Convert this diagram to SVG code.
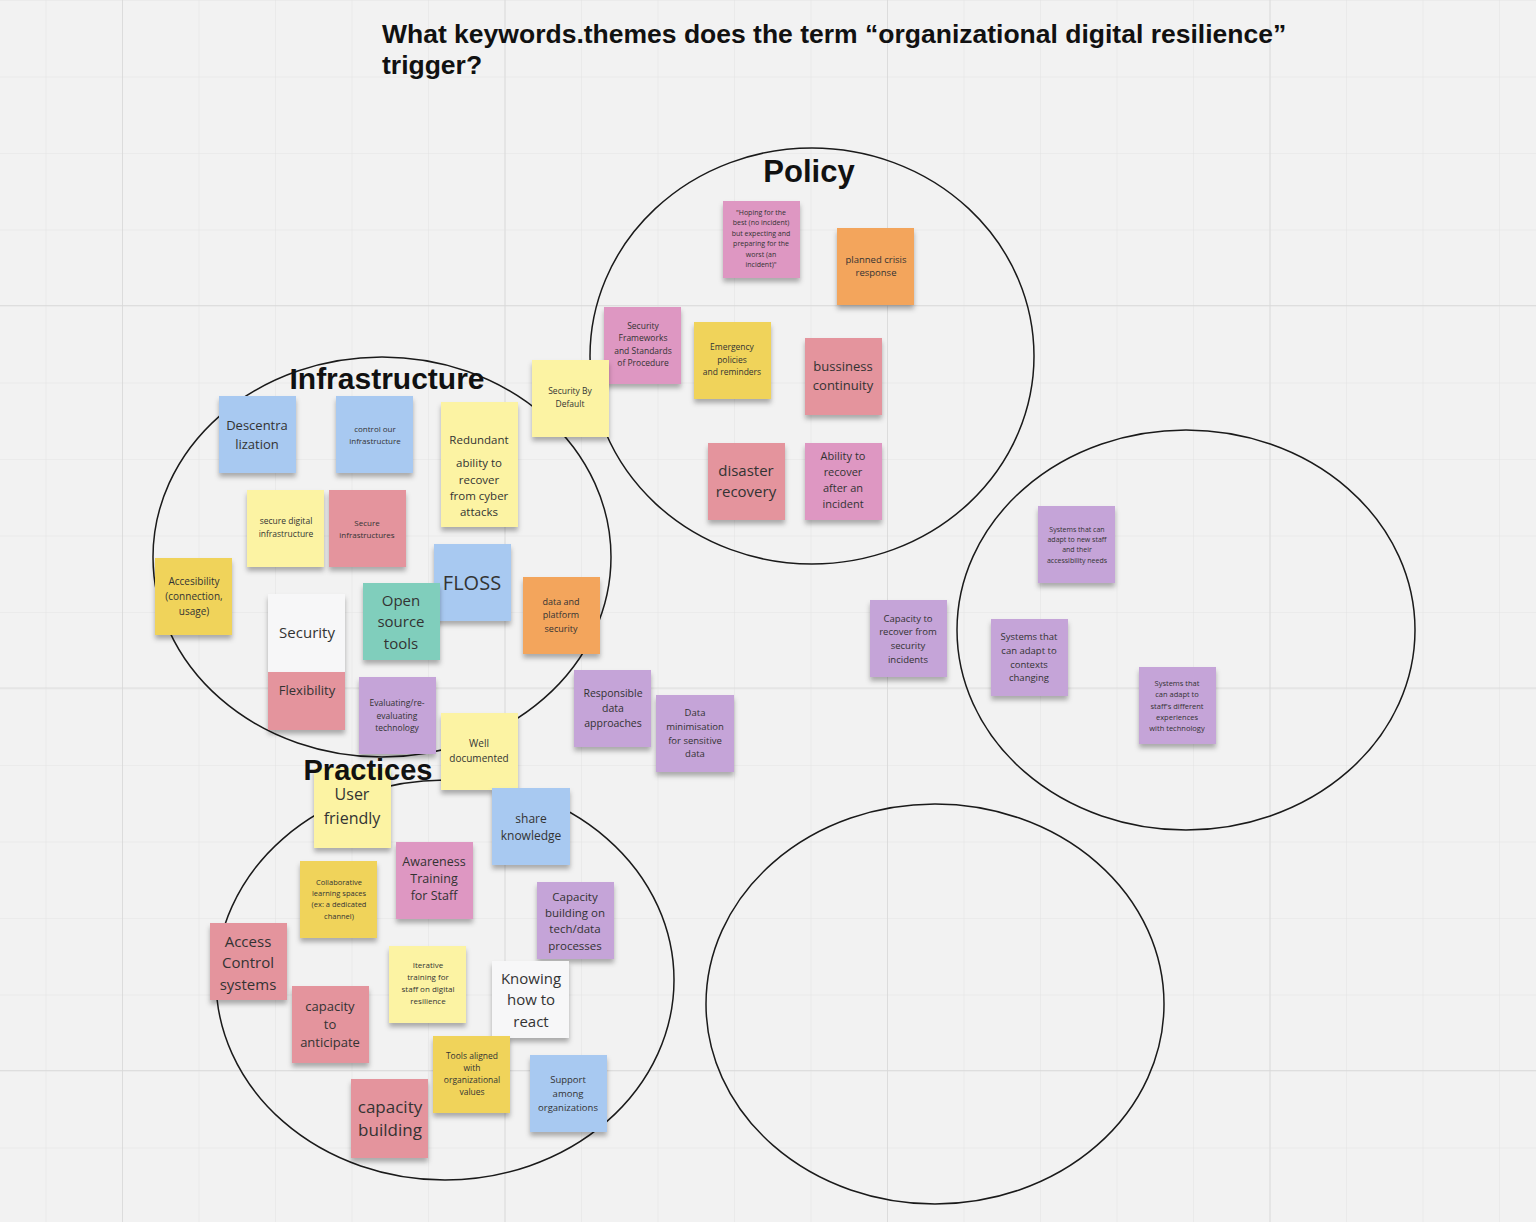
<svg xmlns="http://www.w3.org/2000/svg" width="1536" height="1222" viewBox="0 0 1536 1222">
<defs>
<pattern id="g" x="45.5" y="0" width="76.5" height="76.5" patternUnits="userSpaceOnUse"><path d="M0 0V76.5M0 0H76.5" stroke="#e4e4e4" stroke-width="1.2" fill="none"/></pattern>
<pattern id="G" x="122" y="305" width="382.5" height="382.5" patternUnits="userSpaceOnUse"><path d="M0 0V382.5M0 0H382.5" stroke="#d8d8d8" stroke-width="1.5" fill="none"/></pattern>
<filter id="sh" x="-10%" y="-10%" width="120%" height="130%"><feDropShadow dx="0" dy="4" stdDeviation="2.5" flood-color="#000" flood-opacity="0.3"/></filter>
<style>
.n rect{filter:url(#sh)}
.pk{fill:#de97c2}.or{fill:#f3a55c}.ye{fill:#f0d35a}.ly{fill:#fcf3a3}.rd{fill:#e4949d}.bl{fill:#a8c9f1}.pu{fill:#c5a4d8}.te{fill:#80cebc}.wh{fill:#f7f7f8}
text{font-family:"Open Sans","Liberation Sans",sans-serif;fill:#333;text-anchor:middle}
.t{font-family:"Liberation Sans",Arial,sans-serif;font-weight:bold;fill:#111}
.c{fill:none;stroke:#1a1a1a;stroke-width:1.5}
</style>
</defs>
<rect width="1536" height="1222" fill="#f2f2f2"/>
<rect width="1536" height="1222" fill="url(#g)"/>
<rect width="1536" height="1222" fill="url(#G)"/>
<text class="t" x="382" y="43" font-size="26.5" style="text-anchor:start">What keywords.themes does the term “organizational digital resilience”</text>
<text class="t" x="382" y="74" font-size="26.5" style="text-anchor:start">trigger?</text>
<g id="connectors">
<ellipse class="c" cx="812" cy="356" rx="222" ry="208"/>
<ellipse class="c" cx="382" cy="557" rx="229" ry="200"/>
<ellipse class="c" cx="1186" cy="630" rx="229" ry="200"/>
<ellipse class="c" cx="445" cy="980" rx="229" ry="200"/>
<ellipse class="c" cx="935" cy="1004" rx="229" ry="200"/>
</g>
<text class="t" x="809" y="182" font-size="31">Policy</text>
<text class="t" x="387" y="389" font-size="30">Infrastructure</text>
<g class="n" id="n1"><rect class="pk" x="723" y="201" width="77" height="77"/><text font-size="7"><tspan x="761" y="215">"Hoping for the</tspan><tspan x="761" y="225">best (no incident)</tspan><tspan x="761" y="236">but expecting and</tspan><tspan x="761" y="246">preparing for the</tspan><tspan x="761" y="257">worst (an</tspan><tspan x="761" y="267">incident)"</tspan></text></g>
<g class="n" id="n2"><rect class="or" x="837" y="228" width="77" height="77"/><text font-size="9.5"><tspan x="876" y="263">planned crisis</tspan><tspan x="876" y="276">response</tspan></text></g>
<g class="n" id="n3"><rect class="pk" x="604" y="307" width="77" height="77"/><text font-size="8.5"><tspan x="643" y="329">Security</tspan><tspan x="643" y="341">Frameworks</tspan><tspan x="643" y="354">and Standards</tspan><tspan x="643" y="366">of Procedure</tspan></text></g>
<g class="n" id="n4"><rect class="ye" x="694" y="322" width="77" height="77"/><text font-size="8.5"><tspan x="732" y="350">Emergency</tspan><tspan x="732" y="363">policies</tspan><tspan x="732" y="375">and reminders</tspan></text></g>
<g class="n" id="n5"><rect class="rd" x="805" y="338" width="77" height="77"/><text font-size="13"><tspan x="843" y="371">bussiness</tspan><tspan x="843" y="390">continuity</tspan></text></g>
<g class="n" id="n6"><rect class="ly" x="532" y="360" width="77" height="77"/><text font-size="8.5"><tspan x="570" y="394">Security By</tspan><tspan x="570" y="407">Default</tspan></text></g>
<g class="n" id="n7"><rect class="rd" x="708" y="443" width="77" height="77"/><text font-size="15"><tspan x="746" y="476">disaster</tspan><tspan x="746" y="497">recovery</tspan></text></g>
<g class="n" id="n8"><rect class="pk" x="805" y="443" width="77" height="77"/><text font-size="11"><tspan x="843" y="460">Ability to</tspan><tspan x="843" y="476">recover</tspan><tspan x="843" y="492">after an</tspan><tspan x="843" y="508">incident</tspan></text></g>
<g class="n" id="n9"><rect class="bl" x="219" y="396" width="77" height="77"/><text font-size="13"><tspan x="257" y="430">Descentra</tspan><tspan x="257" y="449">lization</tspan></text></g>
<g class="n" id="n10"><rect class="bl" x="336" y="396" width="77" height="77"/><text font-size="8"><tspan x="375" y="432">control our</tspan><tspan x="375" y="444">infrastructure</tspan></text></g>
<g class="n" id="n11"><rect class="ly" x="441" y="402" width="77" height="125"/><text font-size="11.5"><tspan x="479" y="444">Redundant</tspan><tspan x="479" y="467">ability to</tspan><tspan x="479" y="484">recover</tspan><tspan x="479" y="500">from cyber</tspan><tspan x="479" y="516">attacks</tspan></text></g>
<g class="n" id="n12"><rect class="ly" x="247" y="490" width="77" height="77"/><text font-size="8.5"><tspan x="286" y="524">secure digital</tspan><tspan x="286" y="537">infrastructure</tspan></text></g>
<g class="n" id="n13"><rect class="rd" x="329" y="490" width="77" height="77"/><text font-size="8"><tspan x="367" y="526">Secure</tspan><tspan x="367" y="538">infrastructures</tspan></text></g>
<g class="n" id="n14"><rect class="bl" x="434" y="544" width="77" height="77"/><text font-size="20"><tspan x="472" y="590">FLOSS</tspan></text></g>
<g class="n" id="n15"><rect class="ye" x="155" y="558" width="77" height="77"/><text font-size="10"><tspan x="194" y="585">Accesibility</tspan><tspan x="194" y="600">(connection,</tspan><tspan x="194" y="615">usage)</tspan></text></g>
<g class="n" id="n16"><rect class="te" x="363" y="583" width="77" height="77"/><text font-size="15"><tspan x="401" y="606">Open</tspan><tspan x="401" y="627">source</tspan><tspan x="401" y="649">tools</tspan></text></g>
<g class="n" id="n17"><rect class="wh" x="268" y="594" width="77" height="78"/><text font-size="15"><tspan x="307" y="638">Security</tspan></text></g>
<g class="n" id="n18"><rect class="or" x="523" y="577" width="77" height="77"/><text font-size="9"><tspan x="561" y="605">data and</tspan><tspan x="561" y="618">platform</tspan><tspan x="561" y="632">security</tspan></text></g>
<g class="n" id="n19"><rect class="rd" x="268" y="672" width="77" height="58"/><text font-size="13"><tspan x="307" y="695">Flexibility</tspan></text></g>
<g class="n" id="n20"><rect class="pu" x="359" y="677" width="77" height="77"/><text font-size="8.5"><tspan x="397" y="706">Evaluating/re-</tspan><tspan x="397" y="719">evaluating</tspan><tspan x="397" y="731">technology</tspan></text></g>
<g class="n" id="n21"><rect class="ly" x="441" y="713" width="77" height="77"/><text font-size="10"><tspan x="479" y="747">Well</tspan><tspan x="479" y="762">documented</tspan></text></g>
<g class="n" id="n22"><rect class="pu" x="574" y="670" width="77" height="77"/><text font-size="10.5"><tspan x="613" y="697">Responsible</tspan><tspan x="613" y="712">data</tspan><tspan x="613" y="727">approaches</tspan></text></g>
<g class="n" id="n23"><rect class="pu" x="656" y="695" width="78" height="77"/><text font-size="9.5"><tspan x="695" y="716">Data</tspan><tspan x="695" y="730">minimisation</tspan><tspan x="695" y="744">for sensitive</tspan><tspan x="695" y="757">data</tspan></text></g>
<g class="n" id="n24"><rect class="pu" x="870" y="600" width="77" height="77"/><text font-size="9.5"><tspan x="908" y="622">Capacity to</tspan><tspan x="908" y="635">recover from</tspan><tspan x="908" y="649">security</tspan><tspan x="908" y="663">incidents</tspan></text></g>
<g class="n" id="n25"><rect class="pu" x="1038" y="506" width="77" height="77"/><text font-size="7"><tspan x="1077" y="532">Systems that can</tspan><tspan x="1077" y="542">adapt to new staff</tspan><tspan x="1077" y="552">and their</tspan><tspan x="1077" y="563">accessibility needs</tspan></text></g>
<g class="n" id="n26"><rect class="pu" x="991" y="619" width="77" height="77"/><text font-size="9.5"><tspan x="1029" y="640">Systems that</tspan><tspan x="1029" y="654">can adapt to</tspan><tspan x="1029" y="668">contexts</tspan><tspan x="1029" y="681">changing</tspan></text></g>
<g class="n" id="n27"><rect class="pu" x="1139" y="667" width="77" height="77"/><text font-size="7.5"><tspan x="1177" y="686">Systems that</tspan><tspan x="1177" y="697">can adapt to</tspan><tspan x="1177" y="709">staff's different</tspan><tspan x="1177" y="720">experiences</tspan><tspan x="1177" y="731">with technology</tspan></text></g>
<g class="n" id="n28"><rect class="ly" x="314" y="768" width="77" height="80"/><text font-size="16"><tspan x="352" y="800">User</tspan><tspan x="352" y="824">friendly</tspan></text></g>
<text class="t" x="368" y="780" font-size="29">Practices</text>
<g class="n" id="n29"><rect class="bl" x="492" y="788" width="78" height="77"/><text font-size="12"><tspan x="531" y="823">share</tspan><tspan x="531" y="840">knowledge</tspan></text></g>
<g class="n" id="n30"><rect class="ye" x="300" y="861" width="77" height="77"/><text font-size="7.5"><tspan x="339" y="885">Collaborative</tspan><tspan x="339" y="896">learning spaces</tspan><tspan x="339" y="907">(ex: a dedicated</tspan><tspan x="339" y="919">channel)</tspan></text></g>
<g class="n" id="n31"><rect class="pk" x="396" y="842" width="77" height="77"/><text font-size="12.5"><tspan x="434" y="866">Awareness</tspan><tspan x="434" y="883">Training</tspan><tspan x="434" y="900">for Staff</tspan></text></g>
<g class="n" id="n32"><rect class="pu" x="537" y="882" width="77" height="77"/><text font-size="11.5"><tspan x="575" y="901">Capacity</tspan><tspan x="575" y="917">building on</tspan><tspan x="575" y="933">tech/data</tspan><tspan x="575" y="950">processes</tspan></text></g>
<g class="n" id="n33"><rect class="rd" x="210" y="923" width="77" height="77"/><text font-size="15"><tspan x="248" y="947">Access</tspan><tspan x="248" y="968">Control</tspan><tspan x="248" y="990">systems</tspan></text></g>
<g class="n" id="n34"><rect class="ly" x="389" y="946" width="77" height="77"/><text font-size="8"><tspan x="428" y="968">Iterative</tspan><tspan x="428" y="980">training for</tspan><tspan x="428" y="992">staff on digital</tspan><tspan x="428" y="1004">resilience</tspan></text></g>
<g class="n" id="n35"><rect class="wh" x="492" y="961" width="77" height="77"/><text font-size="15"><tspan x="531" y="984">Knowing</tspan><tspan x="531" y="1005">how to</tspan><tspan x="531" y="1027">react</tspan></text></g>
<g class="n" id="n36"><rect class="rd" x="292" y="986" width="77" height="77"/><text font-size="13"><tspan x="330" y="1011">capacity</tspan><tspan x="330" y="1029">to</tspan><tspan x="330" y="1047">anticipate</tspan></text></g>
<g class="n" id="n37"><rect class="ye" x="433" y="1036" width="77" height="77"/><text font-size="8.5"><tspan x="472" y="1059">Tools aligned</tspan><tspan x="472" y="1071">with</tspan><tspan x="472" y="1083">organizational</tspan><tspan x="472" y="1095">values</tspan></text></g>
<g class="n" id="n38"><rect class="bl" x="530" y="1055" width="77" height="77"/><text font-size="9.5"><tspan x="568" y="1083">Support</tspan><tspan x="568" y="1097">among</tspan><tspan x="568" y="1111">organizations</tspan></text></g>
<g class="n" id="n39"><rect class="rd" x="351" y="1079" width="77" height="79"/><text font-size="17"><tspan x="390" y="1113">capacity</tspan><tspan x="390" y="1136">building</tspan></text></g>
</svg>
